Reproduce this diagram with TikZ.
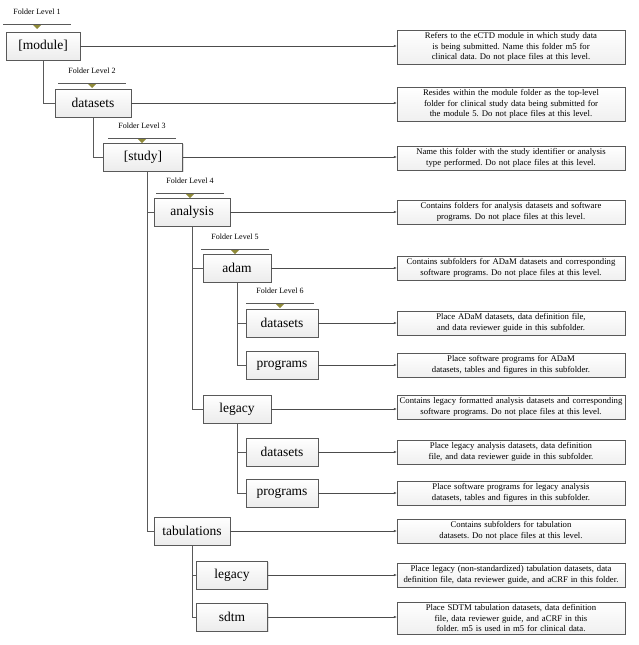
\documentclass[tikz,border=0pt]{standalone}
\usepackage{fontspec}
\setmainfont{Liberation Serif}
\usetikzlibrary{arrows.meta,positioning,shadows}
\tikzset{
    x=1pt,y=-1pt,semithick,
    folder/.style={draw=gray!70!black,thin,top color=white,bottom color=gray!15,
        drop shadow={opacity=0.25,shadow xshift=1pt,shadow yshift=-1pt},
        minimum height=28,font=\fontsize{13.5}{15}\selectfont,inner sep=2pt},
    desc/.style={draw=gray!70!black,thin,top color=white,bottom color=gray!12,
        drop shadow={opacity=0.25,shadow xshift=1pt,shadow yshift=-1pt},
        text width=223,align=center,font=\fontsize{8.7}{10.6}\selectfont,inner sep=2.5pt},
    lvl/.style={font=\fontsize{8}{9}\selectfont},
    tree/.style={draw=gray!70!black,thin},
    link/.style={draw=gray!60!black,thin,-{Latex[length=3pt,width=2.5pt]}}
}
\newcommand{\levelmark}[3]{% name, x, y
  \node[lvl] (#1) at (#2,#3) {Folder Level #1};
  \draw[gray!70!black,thin] (#2-34,#3+12) -- (#2+34,#3+12);
  \fill[olive!60!gray] (#2-4,#3+13) -- (#2+4,#3+13) -- (#2,#3+17) -- cycle;
}
\begin{document}
\hyphenpenalty=10000 \exhyphenpenalty=10000 \frenchspacing
\begin{tikzpicture}
\useasboundingbox (0,0) rectangle (638,645);
% level labels
\levelmark{1}{37}{12}
\levelmark{2}{92}{71}
\levelmark{3}{142}{126}
\levelmark{4}{190}{181}
\levelmark{5}{235}{237}
\levelmark{6}{280}{291}
% folders
\node[folder,minimum width=74] (module) at (43,46) {[module]};
\node[folder,minimum width=76] (data) at (93,103) {datasets};
\node[folder,minimum width=79] (study) at (143,157) {[study]};
\node[folder,minimum width=76] (analysis) at (192,212) {analysis};
\node[folder,minimum width=68] (adam) at (237,268) {adam};
\node[folder,minimum width=72] (adamdata) at (282,323) {datasets};
\node[folder,minimum width=72] (adamprog) at (282,365) {programs};
\node[folder,minimum width=68] (legacy) at (237,409) {legacy};
\node[folder,minimum width=72] (legdata) at (282,452) {datasets};
\node[folder,minimum width=72] (legprog) at (282,493) {programs};
\node[folder,minimum width=76] (tab) at (192,531) {tabulations};
\node[folder,minimum width=71] (tablegacy) at (232,575) {legacy};
\node[folder,minimum width=71] (sdtm) at (232,617) {sdtm};
% descriptions
\node[desc] (d1) at (511,47) {Refers to the eCTD module in which study data is being submitted. Name this folder m5 for clinical data. Do not place files at this level.};
\node[desc] (d2) at (511,104) {Resides within the module folder as the top-level folder for clinical study data being submitted for the module 5. Do not place files at this level.};
\node[desc] (d3) at (511,158) {Name this folder with the study identifier or analysis type performed. Do not place files at this level.};
\node[desc] (d4) at (511,212) {Contains folders for analysis datasets and software programs. Do not place files at this level.};
\node[desc] (d5) at (511,268) {Contains subfolders for ADaM datasets and corresponding software programs. Do not place files at this level.};
\node[desc] (d6) at (511,323) {Place ADaM datasets, data definition file, and data reviewer guide in this subfolder.};
\node[desc] (d7) at (511,365) {Place software programs for ADaM datasets, tables and figures in this subfolder.};
\node[desc] (d8) at (511,407) {Contains legacy formatted analysis datasets and corresponding software programs. Do not place files at this level.};
\node[desc] (d9) at (511,452) {Place legacy analysis datasets, data definition file, and data reviewer guide in this subfolder.};
\node[desc] (d10) at (511,493) {Place software programs for legacy analysis datasets, tables and figures in this subfolder.};
\node[desc] (d11) at (511,531) {Contains subfolders for tabulation datasets. Do not place files at this level.};
\node[desc] (d12) at (511,575) {Place legacy (non-standardized) tabulation datasets, data definition file, data reviewer guide, and aCRF in this folder.};
\node[desc] (d13) at (511,618) {Place SDTM tabulation datasets, data definition file, data reviewer guide, and aCRF in this folder. m5 is used in m5 for clinical data.};
% tree lines
\draw[tree] (module.south) |- (data.west);
\draw[tree] (data.south) |- (study.west);
\draw[tree] ([xshift=4]study.south) |- (analysis.west);
\draw[tree] ([xshift=4]study.south) |- (tab.west);
\draw[tree] (analysis.south) |- (adam.west);
\draw[tree] (analysis.south) |- (legacy.west);
\draw[tree] (adam.south) |- (adamdata.west);
\draw[tree] (adam.south) |- (adamprog.west);
\draw[tree] (legacy.south) |- (legdata.west);
\draw[tree] (legacy.south) |- (legprog.west);
\draw[tree] (tab.south) |- (tablegacy.west);
\draw[tree] (tab.south) |- (sdtm.west);
% connectors
\foreach \f/\d in {module/d1,data/d2,study/d3,analysis/d4,adam/d5,adamdata/d6,adamprog/d7,legacy/d8,legdata/d9,legprog/d10,tab/d11,tablegacy/d12,sdtm/d13}
  \draw[link] (\f.east) -- (\f.east -| \d.west);
\end{tikzpicture}
\end{document}
